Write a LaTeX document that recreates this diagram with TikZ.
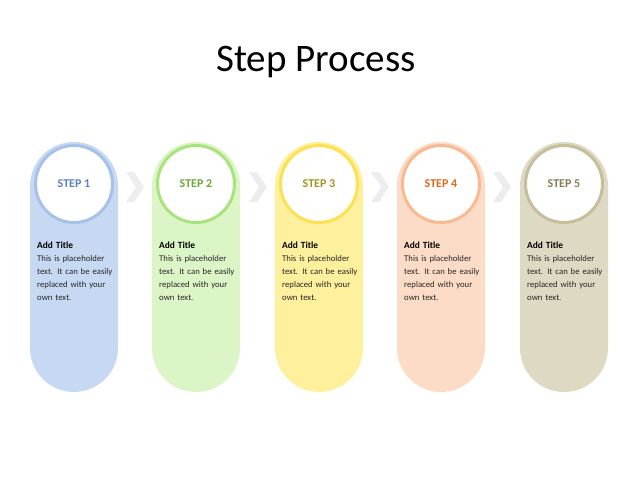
\documentclass[tikz,border=0pt]{standalone}
\usepackage{fontspec}
\setmainfont{Carlito}
\begin{document}
\begin{tikzpicture}[x=1pt,y=-1pt,
  pill/.style={rounded corners=44pt},
  stepcirc/.style={circle,fill=white,minimum size=77pt,inner sep=0pt,line width=3pt,font=\bfseries\fontsize{12}{14}\selectfont},
  desc/.style={anchor=north west,align=left,text width=84pt,inner sep=0pt,font=\fontsize{8.7}{13}\selectfont,text=black!85},
  chev/.style={fill=black!7,draw=none}]
\useasboundingbox (0,0) rectangle (640,480);
\definecolor{fA}{HTML}{C6D8F2}\definecolor{bA}{HTML}{A7C1E8}\definecolor{tA}{HTML}{5A83C2}
\definecolor{fB}{HTML}{DCF5C6}\definecolor{bB}{HTML}{A9E37E}\definecolor{tB}{HTML}{6CA83A}
\definecolor{fC}{HTML}{FFF09E}\definecolor{bC}{HTML}{FCE252}\definecolor{tC}{HTML}{A8921E}
\definecolor{fD}{HTML}{FDDCC7}\definecolor{bD}{HTML}{F8BA90}\definecolor{tD}{HTML}{E0691A}
\definecolor{fE}{HTML}{DDD9C3}\definecolor{bE}{HTML}{C6BF9C}\definecolor{tE}{HTML}{857C55}
\node (title) at (316,62) {\fontsize{39}{44}\selectfont Step Process};
\foreach \i/\cx/\c in {1/74/A,2/196/B,3/319/C,4/441/D,5/564/E}{
  \fill[f\c,pill] (\cx-44,142) rectangle (\cx+44,392);
  \node[stepcirc,draw=b\c,text=t\c] (s\i) at (\cx,184) {STEP \i};
  \node[desc] (d\i) at (\cx-37,241.8) {\textbf{\color{black}\fontsize{9.4}{13}\selectfont Add Title}\\This is placeholder\\text. It can be easily\\replaced with your\\own text.};
}
\foreach \k/\cx in {1/135,2/258,3/380,4/502}{
  \fill[chev] (\cx-9,172) -- (\cx-1,172) -- (\cx+9,187) -- (\cx-1,202) -- (\cx-9,202) -- (\cx+1,187) -- cycle;
}
\end{tikzpicture}
\end{document}
